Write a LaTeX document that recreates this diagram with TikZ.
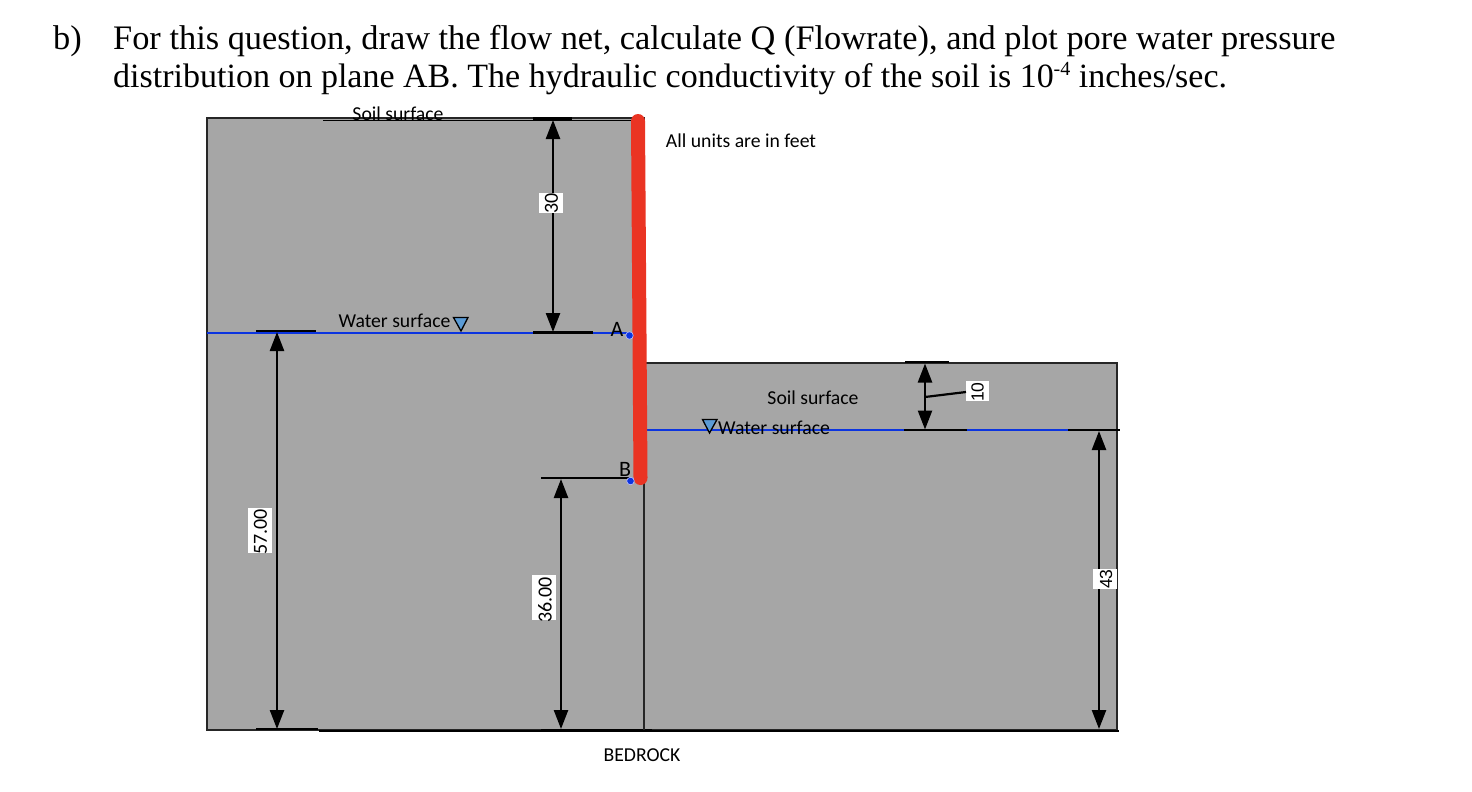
\documentclass[tikz,border=0pt]{standalone}
\usepackage{fontspec}
\setmainfont{Liberation Serif}
\newfontfamily\lblfont{Carlito}
\newfontfamily\numfont{Liberation Sans}
\usetikzlibrary{arrows.meta}
\definecolor{soilgray}{HTML}{A6A6A6}
\definecolor{pilered}{HTML}{EA3423}
\definecolor{waterblue}{HTML}{0B34E0}
\definecolor{triblue}{HTML}{5B9BD5}
\tikzset{
  x=1pt,y=-1pt,
  soilbox/.style={fill=soilgray,draw=black!85,line width=1.3pt},
  extline/.style={draw=black,line width=2.2pt},
  waterline/.style={draw=waterblue,line width=2.4pt},
  dimline/.style={draw=black,line width=2.4pt,{Triangle[length=19pt,width=14pt]}-{Triangle[length=19pt,width=14pt]},shorten <=0pt,shorten >=0pt},
  lbl/.style={font=\lblfont\fontsize{19.7}{22}\selectfont,text=black,inner sep=0pt,anchor=center},
  ptlbl/.style={lbl,font=\lblfont\fontsize{22}{24}\selectfont},
  titlea/.style={font=\fontsize{34.36}{38}\selectfont,text=black,inner sep=0pt,anchor=base west},
  titleb/.style={font=\fontsize{34}{38}\selectfont,text=black,inner sep=0pt,anchor=base west},
  dimbox/.style={inner sep=0pt,rotate=90,text=black,align=center,font=\lblfont\fontsize{20}{22}\selectfont},
  dimboxb/.style={dimbox,font=\numfont\fontsize{17.5}{19}\selectfont},
  tri/.style={draw=black,fill=triblue,line width=1.3pt,line join=miter},
  pt/.style={circle,fill=waterblue,draw=white!75!blue,line width=.6pt,minimum size=7.5pt,inner sep=0pt},
}
\begin{document}
\begin{tikzpicture}
\useasboundingbox (0,0) rectangle (1472,792);
\fill[white] (0,0) rectangle (1472,792);
% title
\node[titlea] (tb) at (53,49) {b)};
\node[titlea] (t1) at (113,49) {For this question, draw the flow net, calculate Q (Flowrate), and plot pore water pressure};
\node[titleb] (t2) at (113,87) {distribution on plane AB. The hydraulic conductivity of the soil is 10\raisebox{11pt}{\fontsize{20}{22}\selectfont -4} inches/sec.};
% soil
\draw[soilbox] (207,118) rectangle (644,730);
\draw[soilbox] (644,363) rectangle (1117,730);
% coordinates
\coordinate (wl0) at (207,333); \coordinate (wl1) at (629,333);
\coordinate (wr0) at (643,430); \coordinate (wr1) at (1070,430);
\coordinate (st0) at (323,120.5); \coordinate (st1) at (638,120.5);
\coordinate (pt0) at (638,121); \coordinate (pt1) at (640.5,478);
\coordinate (div0) at (644,484); \coordinate (div1) at (644,730);
\coordinate (br0) at (319,731); \coordinate (br1) at (1119,731);
% water lines
\draw[waterline] (wl0) -- (wl1);
\draw[waterline] (wr0) -- (wr1);
% extension lines
\coordinate (e1a) at (533,118.5); \coordinate (e1b) at (572,118.5);
\coordinate (e2a) at (533,332.5); \coordinate (e2b) at (593,332.5);
\coordinate (e3a) at (256,331); \coordinate (e3b) at (316,331);
\coordinate (e4a) at (256,729); \coordinate (e4b) at (318,729);
\coordinate (e5a) at (541,478); \coordinate (e5b) at (630,478);
\coordinate (e7a) at (905,362); \coordinate (e7b) at (949,362);
\coordinate (e8a) at (904,430); \coordinate (e8b) at (967,430);
\coordinate (e9a) at (1068,430); \coordinate (e9b) at (1120,430);
\draw[extline,line width=1.8pt] (st0) -- (st1);
\foreach \n in {1,2,3,4,5,7,8,9} {\draw[extline] (e\n a) -- (e\n b);}
\coordinate (e6a) at (541,729.5); \coordinate (e6b) at (652,729.5);
\draw[extline,line width=1.2pt] (e6a) -- (e6b);
\draw[draw=black,line width=2.6pt] (br0) -- (br1);
\draw[draw=black!85,line width=1.5pt] (div0) -- (div1);
% dimension arrows
\coordinate (d30a) at (553,120); \coordinate (d30b) at (553,332);
\coordinate (d57a) at (277,332); \coordinate (d57b) at (277,729);
\coordinate (d36a) at (561,479); \coordinate (d36b) at (561,729);
\coordinate (d10a) at (925,363.5); \coordinate (d10b) at (925,429.5);
\coordinate (d43a) at (1099,431); \coordinate (d43b) at (1099,729);
\draw[dimline] (d30a) -- (d30b);
\draw[dimline] (d57a) -- (d57b);
\draw[dimline] (d36a) -- (d36b);
\draw[dimline] (d10a) -- (d10b);
\draw[dimline] (d43a) -- (d43b);
% dimension labels
\fill[white] (539,193) rectangle (563,213);
\node[dimbox] (n30) at (551.5,203.5) {30};
\fill[white] (248,508) rectangle (272,553);
\node[dimbox] (n57) at (260.5,532) {57.00};
\fill[white] (532,575) rectangle (556,620);
\node[dimbox] (n36) at (545,600) {36.00};
\fill[white] (966,381) rectangle (989,401);
\node[dimboxb] (n10) at (977.5,392) {10};
\fill[white] (1093,569) rectangle (1117,589);
\node[dimboxb] (n43) at (1106,579) {43};
\coordinate (lead0) at (925,397); \coordinate (lead1) at (966,392);
\draw[extline] (lead0) -- (lead1);
% sheet pile
\draw[draw=pilered,line width=14pt,line cap=round] (pt0) -- (pt1);
% triangles
\draw[tri] (453.5,317.5) -- (468,317.5) -- (461,331) -- cycle;
\draw[tri] (702.5,419.5) -- (717,419.5) -- (709.5,433) -- cycle;
% texts
\node[lbl] (ss1) at (398,114) {Soil surface};
\node[lbl] (ws1) at (394.5,320.5) {Water surface};
\node[lbl] (ss2) at (813,397.5) {Soil surface};
\node[lbl] (ws2) at (774,428) {Water surface};
\node[lbl] (au) at (741,141) {All units are in feet};
\node[lbl] (brk) at (642,755) {BEDROCK};
\node[ptlbl] (la) at (617,329) {A};
\node[ptlbl] (lb) at (625,469) {B};
\node[pt] (pa) at (629.5,335.5) {};
\node[pt] (pb) at (630.5,481) {};
\end{tikzpicture}
\end{document}
